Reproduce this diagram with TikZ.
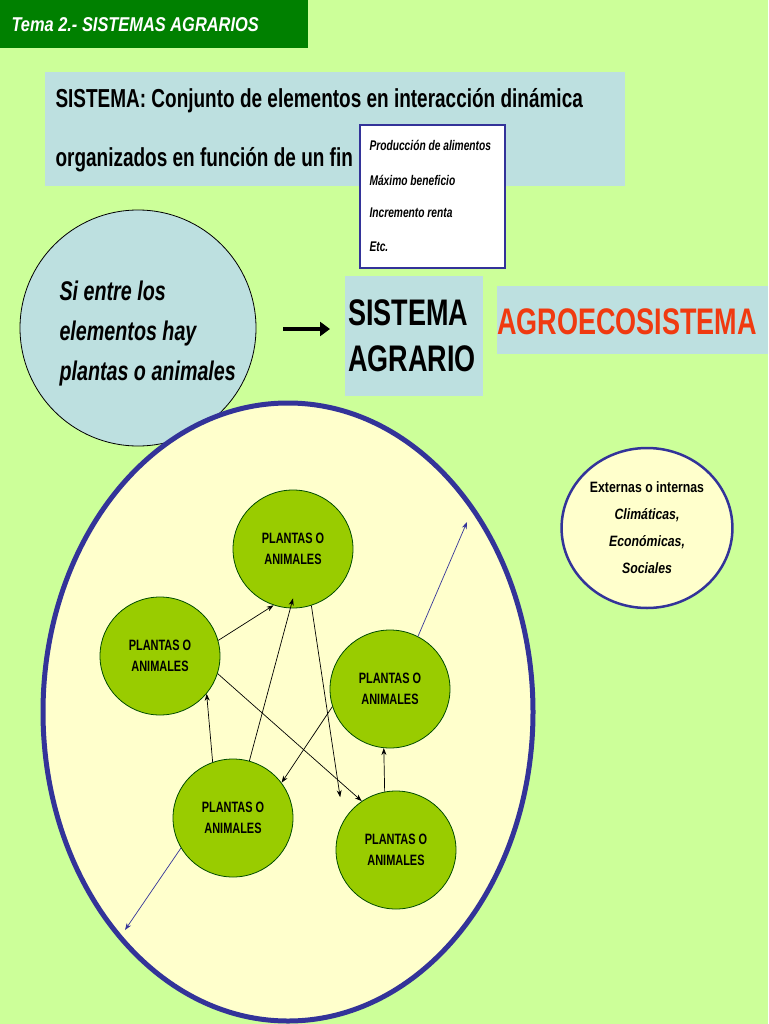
\documentclass[tikz,border=0pt]{standalone}
\usepackage{fontspec}
\setmainfont{Liberation Sans}[FakeStretch=0.82]
\newfontfamily\nar{Liberation Sans}[FakeStretch=0.73]
\usetikzlibrary{arrows.meta,shapes.geometric}
\definecolor{bg}{HTML}{CCFF99}
\definecolor{dg}{HTML}{008000}
\definecolor{lb}{HTML}{BDE0E0}
\definecolor{nv}{HTML}{333399}
\definecolor{cr}{HTML}{FFFFCC}
\definecolor{gf}{HTML}{99CC00}
\definecolor{rd}{HTML}{F03A10}
\tikzset{
 pa/.style={ellipse,draw=black!70!green,line width=0.8pt,fill=gf,minimum width=120pt,minimum height=118pt,inner sep=0pt,align=center,font=\nar\bfseries\fontsize{15}{21}\selectfont},
 ar/.style={-{Stealth[length=7pt,width=5pt]},line width=0.7pt},
 br/.style={-{Stealth[length=7pt,width=5pt]},line width=0.7pt,draw=nv}
}
\begin{document}
\begin{tikzpicture}[x=1pt,y=-1pt]
\useasboundingbox (0,0) rectangle (768,1024);
\fill[bg] (0,0) rectangle (768,1024);
\fill[dg] (0,0) rectangle (308,48);
\node[anchor=west,text=white,font=\bfseries\itshape\fontsize{20}{24}\selectfont] (t) at (8,25) {Tema 2.- SISTEMAS AGRARIOS};
\fill[lb] (45,72) rectangle (625,186);
\node[anchor=west,font=\nar\bfseries\fontsize{26}{30}\selectfont] (s1) at (52,101) {SISTEMA: Conjunto de elementos en interacción dinámica};
\node[anchor=west,font=\nar\bfseries\fontsize{26}{30}\selectfont] (s2) at (52,160) {organizados en función de un fin};
\draw[nv,line width=2.5pt,fill=white] (360,125) rectangle (505,268);
\foreach \t/\y in {Producción de alimentos/145,Máximo beneficio/180,Incremento renta/213,Etc./247}
 \node[anchor=west,font=\nar\bfseries\itshape\fontsize{14}{16}\selectfont] at (366,\y) {\t};
\node[ellipse,draw,fill=lb,minimum width=236pt,minimum height=236pt,line width=0.8pt] (sc) at (138,328) {};
\node[anchor=west,align=left,font=\nar\bfseries\itshape\fontsize{27}{40}\selectfont] (st) at (56,334) {Si entre los\\elementos hay\\plantas o animales};
\coordinate (a1) at (283,329); \coordinate (a2) at (330,329);
\draw[line width=4pt,-{Triangle[length=10pt,width=14pt]}] (a1) -- (a2);
\fill[lb] (345,276) rectangle (483,396);
\node[align=left,font=\nar\bfseries\fontsize{37}{46}\selectfont] (sa) at (412,336) {SISTEMA\\AGRARIO};
\fill[lb] (497,286) rectangle (768,354);
\node[text=rd,font=\nar\bfseries\fontsize{37}{40}\selectfont] (ag) at (627,322) {AGROECOSISTEMA};
\node[ellipse,draw=nv,line width=5pt,fill=cr,minimum width=490pt,minimum height=618pt] (big) at (288,712) {};
\node[ellipse,draw=nv,line width=2.5pt,fill=cr,minimum width=162pt,minimum height=160pt,align=center,font=\bfseries\fontsize{15}{27}\selectfont] (ex) at (647,528) {Externas o internas\\\itshape Climáticas,\\\itshape Económicas,\\\itshape Sociales};
\node[pa] (A) at (293,549) {PLANTAS O\\ANIMALES};
\node[pa] (B) at (160,656) {PLANTAS O\\ANIMALES};
\node[pa] (C) at (390,689) {PLANTAS O\\ANIMALES};
\node[pa] (D) at (233,818) {PLANTAS O\\ANIMALES};
\node[pa] (E) at (396,850) {PLANTAS O\\ANIMALES};
\draw[ar] (B.15) -- (A.-109);
\draw[ar] (D.74) -- ([yshift=10pt]A.-90);
\draw[ar] (A.-72) -- ([shift={(-12pt,12pt)}]E.137);
\draw[ar] (B.-17) -- (E.125);
\draw[ar] (C.-163) -- (D.36);
\draw[ar] (D.110) -- (B.-39);
\draw[ar] (E.101) -- (C.-96);
\coordinate (o1) at (467,522); \coordinate (o2) at (125,930);
\draw[br] (C.62) -- (o1);
\draw[br] (D.-150) -- (o2);
\end{tikzpicture}
\end{document}
